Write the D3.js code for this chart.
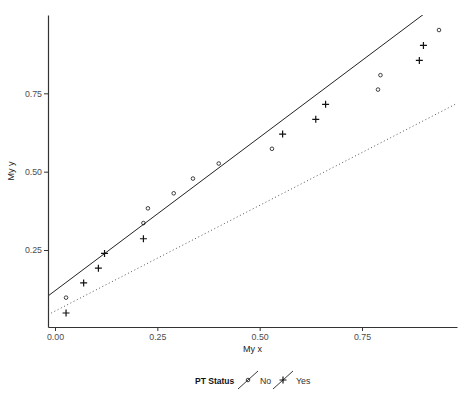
<!DOCTYPE html>
<html><head><meta charset="utf-8">
<script src="https://cdn.jsdelivr.net/npm/d3@7"></script>
<style>body{margin:0;background:#fff}</style>
</head><body>
<svg id="c" width="474" height="411"></svg>
<script>
const noX = [0.027, 0.216, 0.227, 0.290, 0.337, 0.400, 0.530, 0.789, 0.795, 0.938];
const noY = [0.098, 0.336, 0.383, 0.431, 0.478, 0.526, 0.573, 0.762, 0.808, 0.952];
const yesX = [0.027, 0.070, 0.106, 0.121, 0.216, 0.556, 0.637, 0.661, 0.890, 0.900];
const yesY = [0.049, 0.145, 0.192, 0.239, 0.286, 0.620, 0.667, 0.715, 0.855, 0.903];
const lineIntercepts = [0.12, 0.055];
const lineSlopes = [0.98, 0.675];
const lineStyles = ["solid", "dotted"];
const xTicks = [0, 0.25, 0.5, 0.75];
const yTicks = [0.25, 0.5, 0.75];
const legendLabels = ["No", "Yes"];

const svg = d3.select("#c");
const L = 48, R = 457, T = 15, B = 327;
const x = d3.scaleLinear().domain([-0.0171, 0.982]).range([L, R]);
const y = d3.scaleLinear().domain([0.0043, 1.0]).range([B, T]);
const font = "Liberation Sans, Arial, sans-serif";

svg.append("clipPath").attr("id", "pc").append("rect")
  .attr("x", L).attr("y", T).attr("width", R - L).attr("height", B - T);

const g = svg.append("g").attr("clip-path", "url(#pc)");
const xd = x.domain();
lineIntercepts.forEach((a, i) => {
  const b = lineSlopes[i];
  g.append("line")
    .attr("x1", x(xd[0])).attr("y1", y(a + b * xd[0]))
    .attr("x2", x(xd[1])).attr("y2", y(a + b * xd[1]))
    .attr("stroke", lineStyles[i] === "solid" ? "#222" : "#555")
    .attr("stroke-width", lineStyles[i] === "solid" ? 1 : 1)
    .attr("stroke-dasharray", lineStyles[i] === "solid" ? null : "1,2.6");
});

const pts = svg.append("g");
noX.forEach((v, i) => {
  pts.append("circle").attr("cx", x(v)).attr("cy", y(noY[i])).attr("r", 1.8)
    .attr("fill", "none").attr("stroke", "#111").attr("stroke-width", 0.8);
});
const cross = (sel, cx, cy, s) => {
  sel.append("path").attr("d", `M${cx - s},${cy}H${cx + s}M${cx},${cy - s}V${cy + s}`)
    .attr("stroke", "#111").attr("stroke-width", 1.2).attr("fill", "none");
};
yesX.forEach((v, i) => cross(pts, x(v), y(yesY[i]), 3.5));

// axes
const xAxis = svg.append("g").attr("transform", `translate(0,${B})`)
  .call(d3.axisBottom(x).tickValues(xTicks).tickFormat(d3.format(".2f")).tickSize(4).tickPadding(3).tickSizeOuter(0));
const yAxis = svg.append("g").attr("transform", `translate(${L},0)`)
  .call(d3.axisLeft(y).tickValues(yTicks).tickFormat(d3.format(".2f")).tickSize(4).tickPadding(2).tickSizeOuter(0));
[xAxis, yAxis].forEach(a => {
  a.select(".domain").attr("stroke", "#333").attr("stroke-width", 1.2);
  a.selectAll(".tick line").attr("stroke", "#333").attr("stroke-width", 1);
  a.selectAll(".tick text").attr("fill", "#4d4d4d").style("font-family", font).style("font-size", "8.8px");
});

svg.append("text").attr("x", (L + R) / 2).attr("y", 352).attr("text-anchor", "middle")
  .style("font-family", font).style("font-size", "9px").attr("fill", "#222").text("My x");
svg.append("text").attr("transform", `translate(14,${(T + B) / 2}) rotate(-90)`).attr("text-anchor", "middle")
  .style("font-family", font).style("font-size", "9px").attr("fill", "#222").text("My y");

// legend
const lg = svg.append("g");
lg.append("text").attr("x", 195).attr("y", 384).style("font-family", font).style("font-size", "8.5px")
  .style("font-weight", "bold").attr("fill", "#111").text("PT Status");
const keyX = [248, 283], textX = [260, 296];
legendLabels.forEach((lab, i) => {
  const cx = keyX[i], cy = 380;
  lg.append("line").attr("x1", cx - 10).attr("y1", cy + 9).attr("x2", cx + 10).attr("y2", cy - 9)
    .attr("stroke", "#222").attr("stroke-width", 0.9);
  if (i === 0) lg.append("circle").attr("cx", cx).attr("cy", cy).attr("r", 1.8)
    .attr("fill", "none").attr("stroke", "#111").attr("stroke-width", 0.8);
  else cross(lg, cx, cy, 3.5);
  lg.append("text").attr("x", textX[i]).attr("y", 384).style("font-family", font).style("font-size", "8.8px")
    .attr("fill", "#333").text(lab);
});
</script>
</body></html>
